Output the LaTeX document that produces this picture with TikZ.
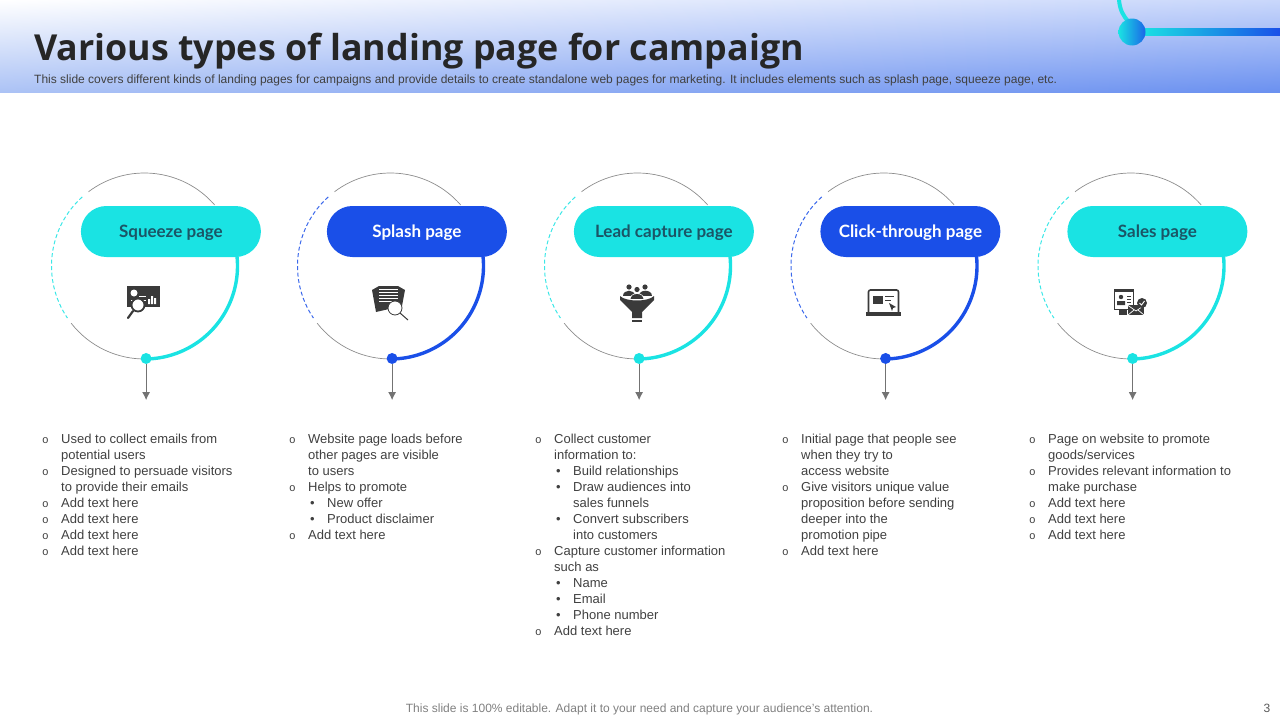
\documentclass[tikz,border=0pt]{standalone}
\usepackage{fontspec}
\setmainfont{Liberation Sans}
\newfontfamily\headfont{Open Sans}
\newfontfamily\pillfont{Lato}
\newfontfamily\bulfont{Liberation Mono}
\usepackage{xcolor}
\usetikzlibrary{positioning,arrows.meta,shadings}

\definecolor{tealc}{HTML}{1AE3E3}
\definecolor{bluec}{HTML}{1A4FE8}
\definecolor{pillink}{HTML}{1B5566}
\definecolor{ringgray}{HTML}{8C8C8C}
\definecolor{bodyink}{HTML}{404040}
\definecolor{iconink}{HTML}{3A3A3A}
\definecolor{bandtr}{HTML}{C9D7FB}
\definecolor{bandbl}{HTML}{ABC2F5}
\definecolor{bandbr}{HTML}{6A90F0}

\newcommand{\opt}{\hspace*{0pt}\makebox[19pt][l]{\bulfont\fontsize{11}{16}\selectfont o}}
\newcommand{\optc}{\hspace*{19pt}}
\newcommand{\subpt}{\hspace*{21pt}\makebox[17pt][l]{\textbullet}}
\newcommand{\subc}{\hspace*{38pt}}

\tikzset{
    pill/.style={rectangle, rounded corners=25.5pt, minimum width=180pt, minimum height=51pt,
        inner sep=0pt, text height=13pt, text depth=2pt, font=\pillfont\bfseries\fontsize{17}{19}\selectfont},
    listbox/.style={anchor=north west, inner sep=0pt, align=left, text=bodyink,
        font=\fontsize{13}{16}\selectfont},
    ringdot/.style={circle, inner sep=0pt, minimum size=11pt},
    flowarrow/.style={draw=black!55, line width=1.2pt, -{Latex[length=8pt,width=8pt]}},
    iconfill/.style={fill=iconink, draw=none},
    iconline/.style={draw=white, line width=0.9pt}
}

\begin{document}
\begin{tikzpicture}[x=1pt,y=-1pt,node distance=36pt]
    \useasboundingbox (0,0) rectangle (1280,720);

    % header band
    \shade[upper left=white, upper right=bandtr, lower left=bandbl, lower right=bandbr] (0,0) rectangle (1280,92.7);
    \draw[tealc, line width=4pt] (1119,0) .. controls (1120,10) and (1123,16) .. (1129,22);
    \shade[left color=tealc, middle color=tealc!70!bluec, right color=bluec] (1140,28.5) rectangle (1280,35);
    \shade[left color=tealc, right color=bluec!85!tealc] (1132,32) circle (13.5);
    \node[anchor=west, inner sep=0pt, text=black!85, font=\headfont\bfseries\fontsize{35.8}{40}\selectfont]
        (title) at (34,51) {Various types of landing page for campaign};
    \node[anchor=west, inner sep=0pt, text=black!75, font=\fontsize{12}{14}\selectfont]
        (subtitle) at (34,80) {This slide covers different kinds of landing pages for campaigns and provide details to create standalone web pages for marketing. It includes elements such as splash page, squeeze page, etc.};

    % rings with pill, dot and arrow
    \foreach \cx/\ringc/\ink/\nm/\lbl in {144.5/tealc/pillink/squeeze/Squeeze page,
        390.5/bluec/white/splash/Splash page,
        637.5/tealc/pillink/lead/Lead capture page,
        884/bluec/white/click/Click-through page,
        1131/tealc/pillink/sales/Sales page} {
        \coordinate (\nm c) at (\cx,266);
        \draw[ringgray, line width=0.7pt] (\nm c) ++(-127:93) arc[start angle=-127, end angle=-41, radius=93];
        \draw[ringgray, line width=0.7pt] (\nm c) ++(142:93) arc[start angle=142, end angle=89, radius=93];
        \draw[\ringc, line width=1pt, dash pattern=on 4pt off 2.5pt, opacity=.85]
            (\nm c) ++(-132:93) arc[start angle=-132, end angle=-214, radius=93];
        \draw[\ringc, line width=3.4pt] (\nm c) ++(89:93) arc[start angle=89, end angle=-6, radius=93];
        \node[pill, fill=\ringc, text=\ink] (\nm pill) at (\cx+26.4,231.5) {\lbl};
        \path (\nm c) ++(89:92.5) node[ringdot, fill=\ringc] (\nm dot) {};
        \coordinate[below=36pt of \nm dot] (\nm tip);
        \draw[flowarrow] (\nm dot) -- (\nm tip);
    }

    % icon: screen and lens
    \fill[iconfill] (127,286) rectangle (160,307);
    \fill[white] (134,293) circle (3.5);
    \draw[iconline] (139,296) -- (146,296) (131,300) -- (146,300);
    \fill[white] (148,299) rectangle (150,304) (151,296) rectangle (153,304) (154,298) rectangle (156,304);
    \draw[iconink, line width=1.8pt, fill=white] (138,305) circle (6.5);
    \draw[iconink, line width=2.2pt, line cap=round] (133,311) -- (128,318);

    % icon: pages and lens
    \fill[iconfill] (372,290) -- (379,286) -- (398,286) -- (405,290) -- (402,306) -- (376,312) -- cycle;
    \foreach \ly in {289,292,295,298,301} { \draw[iconline, line width=0.7pt] (379,\ly) -- (398,\ly); }
    \draw[iconink, line width=0.8pt, fill=white] (395,308) circle (7);
    \draw[iconink, line width=1pt] (400,313) -- (408,320);

    % icon: funnel with people
    \fill[iconfill] (629,287) circle (2.6) (645,287) circle (2.6) (637,289.5) circle (2.6);
    \fill[iconfill] (622.5,296) .. controls (622.5,288.5) and (635,288.5) .. (635,296) -- cycle;
    \fill[iconfill] (639,296) .. controls (639,288.5) and (651.5,288.5) .. (651.5,296) -- cycle;
    \fill[iconfill, draw=white, line width=0.6pt] (630,299.5) .. controls (630,291.5) and (644,291.5) .. (644,299.5) -- cycle;
    \fill[iconfill] (620,296) .. controls (626,302) and (648,302) .. (654,296) -- (654,300) -- (642,312) -- (642,318) -- (632,318) -- (632,312) -- (620,300) -- cycle;
    \fill[iconfill] (632,319.5) rectangle (642,322);

    % icon: laptop
    \draw[iconink, line width=1.6pt, rounded corners=2pt] (868.5,312) -- (868.5,290) -- (898.5,290) -- (898.5,312);
    \fill[iconfill] (866,312) rectangle (901,316);
    \fill[iconfill] (873,296) rectangle (883,304);
    \draw[iconink, line width=1pt] (885,296.5) -- (894,296.5) (885,300) -- (891,300);
    \fill[iconfill] (889,303) -- (896,307) -- (893,308) -- (892,311) -- cycle;

    % icon: screen, mail and tick
    \draw[iconink, line width=1pt] (1114,289) rectangle (1133,309);
    \draw[iconink, line width=1.4pt] (1114,291) -- (1133,291);
    \fill[iconfill] (1121,297) circle (2.2) (1117,305) rectangle (1125,301);
    \draw[iconink, line width=0.6pt] (1127,296) -- (1131,296) (1127,299) -- (1131,299) (1127,302) -- (1131,302);
    \fill[iconfill] (1119,310) rectangle (1127,315);
    \fill[iconfill] (1128,305) rectangle (1144,315);
    \draw[white, line width=0.7pt] (1128,305.5) -- (1136,311) -- (1144,305.5) (1128,315) -- (1134,310) (1144,315) -- (1138,310);
    \fill[iconfill] (1142,303) circle (5);
    \draw[white, line width=0.9pt] (1139.5,303) -- (1141.5,305) -- (1144.5,301);

    % lists
    \node[listbox] (squeezetext) at (42,434) {\opt Used to collect emails from\\ \optc potential users\\
        \opt Designed to persuade visitors\\ \optc to provide their emails\\
        \opt Add text here\\ \opt Add text here\\ \opt Add text here\\ \opt Add text here};
    \node[listbox] (splashtext) at (289,434) {\opt Website page loads before\\ \optc other pages are visible\\
        \optc to users\\ \opt Helps to promote\\ \subpt New offer\\ \subpt Product disclaimer\\ \opt Add text here};
    \node[listbox] (leadtext) at (535,434) {\opt Collect customer\\ \optc information to:\\
        \subpt Build relationships\\ \subpt Draw audiences into\\ \subc sales funnels\\
        \subpt Convert subscribers\\ \subc into customers\\
        \opt Capture customer information\\ \optc such as\\
        \subpt Name\\ \subpt Email\\ \subpt Phone number\\ \opt Add text here};
    \node[listbox] (clicktext) at (782,434) {\opt Initial page that people see\\ \optc when they try to\\
        \optc access website\\ \opt Give visitors unique value\\ \optc proposition before sending\\
        \optc deeper into the\\ \optc promotion pipe\\ \opt Add text here};
    \node[listbox] (salestext) at (1029,434) {\opt Page on website to promote\\ \optc goods/services\\
        \opt Provides relevant information to\\ \optc make purchase\\
        \opt Add text here\\ \opt Add text here\\ \opt Add text here};

    % footer
    \node[inner sep=0pt, text=black!50, font=\fontsize{12}{14}\selectfont] (footer) at (639.5,709)
        {This slide is 100\% editable. Adapt it to your need and capture your audience's attention.};
    \node[inner sep=0pt, text=black!65, font=\fontsize{12}{14}\selectfont] (pageno) at (1267,708.5) {3};
\end{tikzpicture}
\end{document}
